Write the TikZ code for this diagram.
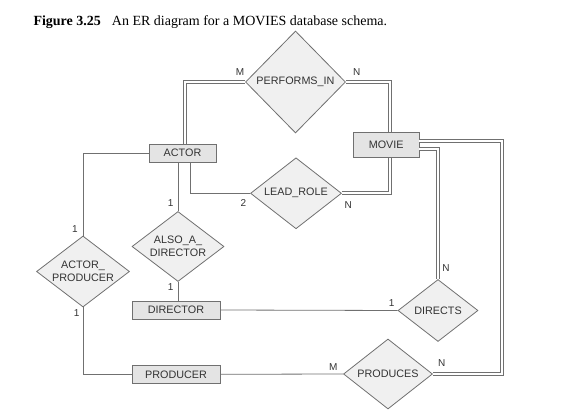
\documentclass[tikz,border=0pt]{standalone}
\usepackage{fontspec}
\setmainfont{Liberation Serif}
\newfontfamily\diagfont{Liberation Sans}
\usetikzlibrary{shapes.geometric,calc}
\definecolor{linegray}{HTML}{707070}
\definecolor{txtgray}{HTML}{333333}
\definecolor{entfill}{HTML}{E4E4E4}
\definecolor{relfill}{HTML}{F0F0F0}
\tikzset{
  entity/.style={draw=linegray, fill=entfill, line width=0.8pt, inner sep=0pt, text=txtgray,
    font=\diagfont\fontsize{10.8}{13}\selectfont},
  rel/.style={draw=linegray, fill=relfill, line width=0.8pt, shape=diamond, inner sep=0pt,
    label={[text=txtgray, align=center, font=\diagfont\fontsize{10.8}{13.3}\selectfont]center:#1}},
  conn/.style={draw=linegray, line width=0.8pt},
  dbl/.style={draw=linegray, line width=0.9pt, double=white, double distance=1.8pt},
  card/.style={text=txtgray, font=\diagfont\fontsize{10}{11}\selectfont, inner sep=0pt},
}
\begin{document}
\begin{tikzpicture}[x=1pt,y=-1pt]
\useasboundingbox (0,0) rectangle (581,419);
\node[anchor=base west, inner sep=0pt, font=\fontsize{14}{16}\selectfont] (title) at (33.3,25.5)
  {\textbf{Figure 3.25}\hspace{11pt}An ER diagram for a MOVIES database schema.};
% entities
\node[entity, minimum width=67pt, minimum height=18pt] (actor) at (182.5,153) {ACTOR};
\node[entity, minimum width=65.7pt, minimum height=25pt] (movie) at (386.2,144.8) {MOVIE};
\node[entity, minimum width=88pt, minimum height=18pt] (director) at (176,310) {DIRECTOR};
\node[entity, minimum width=88pt, minimum height=18pt] (producer) at (176,374.3) {PRODUCER};
% relationships
\node[rel={PERFORMS\_IN}, minimum width=100pt, minimum height=102pt] (pi) at (295.5,82) {};
\node[rel={LEAD\_ROLE}, minimum width=91pt, minimum height=71pt] (lr) at (296,193.3) {};
\node[rel={ALSO\_A\_\\DIRECTOR}, minimum width=92pt, minimum height=70pt] (aad) at (178,246.5) {};
\node[rel={ACTOR\_\\PRODUCER}, minimum width=93pt, minimum height=71pt] (ap) at (83,271.5) {};
\node[rel={DIRECTS}, minimum width=80pt, minimum height=62pt] (dirs) at (438,310.5) {};
\node[rel={PRODUCES}, minimum width=89pt, minimum height=70pt] (prod) at (388,374) {};
\coordinate (rc) at (501.7,260);
% connectors
\draw[dbl] ([xshift=2.2pt]actor.north) |- (pi.west);
\draw[dbl] (pi.east) -| ([xshift=3.8pt]movie.north);
\draw[conn] ([xshift=7.5pt]actor.south) |- (lr.west);
\draw[dbl] (lr.east) -| ([xshift=3.8pt]movie.south);
\draw[dbl] ([yshift=-4.5pt]movie.east) -| (dirs.north);
\draw[dbl] ([yshift=4pt]movie.east) -| (rc) |- (prod.east);
\draw[conn] (actor.west) -| (ap.north);
\draw[conn] (aad.north |- actor.south) -- (aad.north);
\draw[conn] (aad.south) -- (aad.south |- director.north);
\draw[conn] (ap.south) |- (producer.west);
\draw[conn] (director.east) -- (dirs.west);
\draw[conn] (producer.east) -- (prod.west);
% cardinalities
\node[card] (c1) at (240,71.7) {M};
\node[card] (c2) at (356.7,71.7) {N};
\node[card] (c3) at (243.3,203.3) {2};
\node[card] (c4) at (348.3,205) {N};
\node[card] (c5) at (75,229) {1};
\node[card] (c6) at (76.7,313.3) {1};
\node[card] (c7) at (170.7,202.7) {1};
\node[card] (c8) at (170.7,287.3) {1};
\node[card] (c9) at (446,268.3) {N};
\node[card] (c10) at (391.7,302.7) {1};
\node[card] (c11) at (333.3,366.7) {M};
\node[card] (c12) at (441.7,363.3) {N};
\end{tikzpicture}
\end{document}
